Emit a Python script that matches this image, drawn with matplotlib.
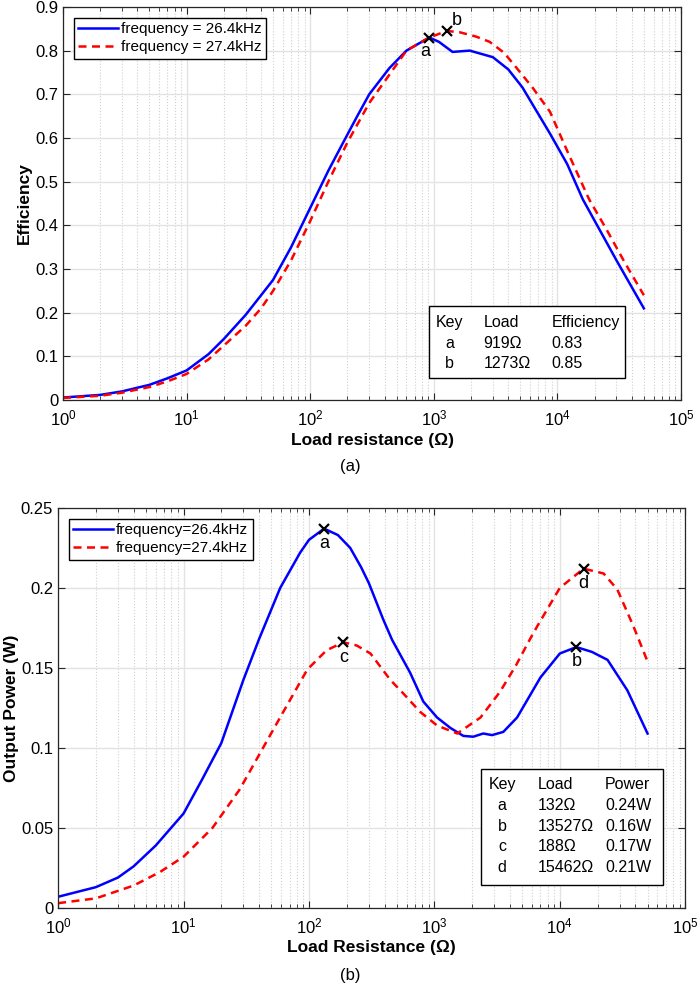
import matplotlib
matplotlib.use("Agg")
import matplotlib.pyplot as plt
from matplotlib.patches import Rectangle
from matplotlib.ticker import LogLocator, NullFormatter

plt.rcParams['font.family'] = ['Liberation Sans', 'DejaVu Sans']
plt.rcParams['font.size'] = 12

# (a) efficiency vs load resistance
eff_r26 = [1, 2, 3, 5, 7, 10, 15, 20, 30, 40, 50, 70, 100, 140, 185, 240, 300, 437,
           600, 919, 1100, 1416, 1950, 3000, 4000, 5200, 8700, 12000, 16000, 30000, 50000]
eff_26 = [0.006, 0.012, 0.02, 0.035, 0.05, 0.068, 0.105, 0.14, 0.195, 0.24, 0.275,
          0.35, 0.44, 0.525, 0.59, 0.65, 0.70, 0.76, 0.80, 0.83, 0.82, 0.797, 0.80,
          0.785, 0.757, 0.716, 0.61, 0.54, 0.46, 0.32, 0.21]
eff_r27 = [1, 2, 3, 5, 7, 10, 15, 20, 30, 40, 50, 70, 100, 140, 200, 300, 450, 600,
           919, 1273, 1620, 2200, 2830, 3700, 4680, 6300, 8700, 12000, 18000, 25000,
           35000, 50000]
eff_27 = [0.005, 0.010, 0.017, 0.03, 0.043, 0.06, 0.093, 0.125, 0.17, 0.21, 0.25,
          0.32, 0.41, 0.50, 0.59, 0.68, 0.75, 0.80, 0.83, 0.845, 0.842, 0.832, 0.82,
          0.795, 0.76, 0.715, 0.66, 0.57, 0.46, 0.39, 0.315, 0.24]
eff_keys = ['a', 'b']
eff_key_load = [919, 1273]
eff_key_val = [0.83, 0.845]

# (b) output power vs load resistance
pw_r26 = [1, 2, 3, 4, 6, 10, 14, 20, 30, 40, 59, 85, 100, 132, 170, 213, 260, 300,
          392, 460, 640, 815, 1050, 1340, 1700, 2040, 2450, 2880, 3540, 4560, 7000,
          10000, 13527, 18000, 24000, 34500, 50000]
pw_26 = [0.007, 0.013, 0.019, 0.026, 0.039, 0.059, 0.08, 0.103, 0.1425, 0.168, 0.2,
         0.222, 0.23, 0.237, 0.233, 0.225, 0.213, 0.203, 0.18, 0.1675, 0.147, 0.129,
         0.119, 0.1125, 0.1075, 0.107, 0.109, 0.108, 0.11, 0.119, 0.144, 0.159, 0.163,
         0.160, 0.155, 0.136, 0.109]
pw_r27 = [1, 2, 4, 6.5, 10, 17, 28, 43, 56, 97, 138, 188, 240, 309, 445, 565, 770,
          1050, 1520, 2330, 3330, 4500, 5600, 6600, 10000, 15462, 22300, 28700, 38600,
          50000]
pw_27 = [0.003, 0.006, 0.014, 0.0225, 0.032, 0.05, 0.074, 0.10, 0.116, 0.149, 0.161,
         0.166, 0.164, 0.159, 0.1425, 0.134, 0.1225, 0.114, 0.109, 0.119, 0.135, 0.152,
         0.166, 0.176, 0.2, 0.212, 0.209, 0.199, 0.176, 0.154]
pw_keys = ['a', 'b', 'c', 'd']
pw_key_load = [132, 13527, 188, 15462]
pw_key_val = [0.237, 0.163, 0.166, 0.212]

eff_table = [['Key', 'Load', 'Efficiency'], ['a', '919Ω', '0.83'], ['b', '1273Ω', '0.85']]
pw_table = [['Key', 'Load', 'Power'], ['a', '132Ω', '0.24W'], ['b', '13527Ω', '0.16W'],
            ['c', '188Ω', '0.17W'], ['d', '15462Ω', '0.21W']]


def style_axes(ax):
    ax.set_xscale('log')
    ax.set_xlim(1, 1e5)
    ax.xaxis.set_major_locator(LogLocator(base=10, numticks=10))
    ax.xaxis.set_minor_locator(LogLocator(base=10, subs=range(2, 10), numticks=100))
    ax.xaxis.set_minor_formatter(NullFormatter())
    ax.grid(True, which='major', color='#e3e3e3', linewidth=1.0)
    ax.grid(True, which='minor', axis='x', color='#d0d0d0', linestyle=':', linewidth=0.8)
    ax.tick_params(which='both', direction='in', top=True, right=True, colors='#262626',
                   labelcolor='black', labelsize=12)
    ax.tick_params(which='major', length=5)
    ax.tick_params(which='minor', length=3)
    ax.tick_params(axis='x', which='major', pad=6)
    for s in ax.spines.values():
        s.set_color('#262626')
        s.set_linewidth(0.9)
    ax.set_axisbelow(True)


def draw_table(ax, rows, box, rowy, colx):
    x0, y0, w, h = box
    ax.add_patch(Rectangle((x0, y0), w, h, transform=ax.transAxes, facecolor='white',
                           edgecolor='black', linewidth=1.0, zorder=5))
    for i, row in enumerate(rows):
        for j, cell in enumerate(row):
            ha = 'center' if j == 0 else 'left'
            ax.text(colx[j], rowy[i], cell, transform=ax.transAxes, ha=ha,
                    va='center', fontsize=11.5, zorder=6)


fig = plt.figure(figsize=(7, 9.88), dpi=100)

ax1 = fig.add_axes([0.09, 0.595, 0.883, 0.398])
style_axes(ax1)
ax1.plot(eff_r26, eff_26, color='#0000ff', linewidth=1.8, label='frequency = 26.4kHz')
ax1.plot(eff_r27, eff_27, color='#ff0000', linewidth=1.8, linestyle=(0, (3.2, 2.2)),
         label='frequency = 27.4kHz')
ax1.plot(eff_key_load, eff_key_val, 'kx', markersize=7, markeredgewidth=1.6, zorder=4)
ax1.text(eff_key_load[0] * 0.93, eff_key_val[0] - 0.012, eff_keys[0], ha='center', va='top',
         fontsize=13)
ax1.text(eff_key_load[1] * 1.1, eff_key_val[1] + 0.005, eff_keys[1], ha='left', va='bottom',
         fontsize=13)
ax1.set_ylim(0, 0.9)
ax1.set_yticks([0, 0.1, 0.2, 0.3, 0.4, 0.5, 0.6, 0.7, 0.8, 0.9])
ax1.set_yticklabels(['0', '0.1', '0.2', '0.3', '0.4', '0.5', '0.6', '0.7', '0.8', '0.9'])
ax1.set_xlabel('Load resistance (Ω)', fontweight='bold', fontsize=12.5, labelpad=3)
ax1.set_ylabel('Efficiency', fontweight='bold', fontsize=12.5, labelpad=2)
ax1.legend(loc='upper left', fancybox=False, edgecolor='black', framealpha=1,
           handlelength=2.6, borderpad=0.3, labelspacing=0.25, handletextpad=0.2,
           borderaxespad=0.7, fontsize=11)
draw_table(ax1, eff_table, (0.592, 0.056, 0.317, 0.183), [0.198, 0.145, 0.094],
           [0.625, 0.680, 0.790])
fig.text(0.5, 0.528, '(a)', ha='center', va='center', fontsize=12)

ax2 = fig.add_axes([0.083, 0.081, 0.896, 0.405])
style_axes(ax2)
ax2.plot(pw_r26, pw_26, color='#0000ff', linewidth=1.8, label='frequency=26.4kHz')
ax2.plot(pw_r27, pw_27, color='#ff0000', linewidth=1.8, linestyle=(0, (3.2, 2.2)),
         label='frequency=27.4kHz')
ax2.plot(pw_key_load, pw_key_val, 'kx', markersize=7, markeredgewidth=1.6, zorder=4)
for k, r, v in zip(pw_keys, pw_key_load, pw_key_val):
    ax2.text(r, v - 0.004, k, ha='center', va='top', fontsize=13)
ax2.set_ylim(0, 0.25)
ax2.set_yticks([0, 0.05, 0.1, 0.15, 0.2, 0.25])
ax2.set_yticklabels(['0', '0.05', '0.1', '0.15', '0.2', '0.25'])
ax2.set_xlabel('Load Resistance (Ω)', fontweight='bold', fontsize=12.5, labelpad=3)
ax2.set_ylabel('Output Power (W)', fontweight='bold', fontsize=12.5, labelpad=1)
ax2.legend(loc='upper left', fancybox=False, edgecolor='black', framealpha=1,
           handlelength=2.6, borderpad=0.3, labelspacing=0.25, handletextpad=0.2,
           borderaxespad=0.7, fontsize=11)
draw_table(ax2, pw_table, (0.675, 0.0575, 0.29, 0.29),
           [0.3075, 0.255, 0.2025, 0.1525, 0.10], [0.708, 0.764, 0.872])
fig.text(0.5, 0.013, '(b)', ha='center', va='center', fontsize=12)

fig.savefig('out.png', dpi=100)
